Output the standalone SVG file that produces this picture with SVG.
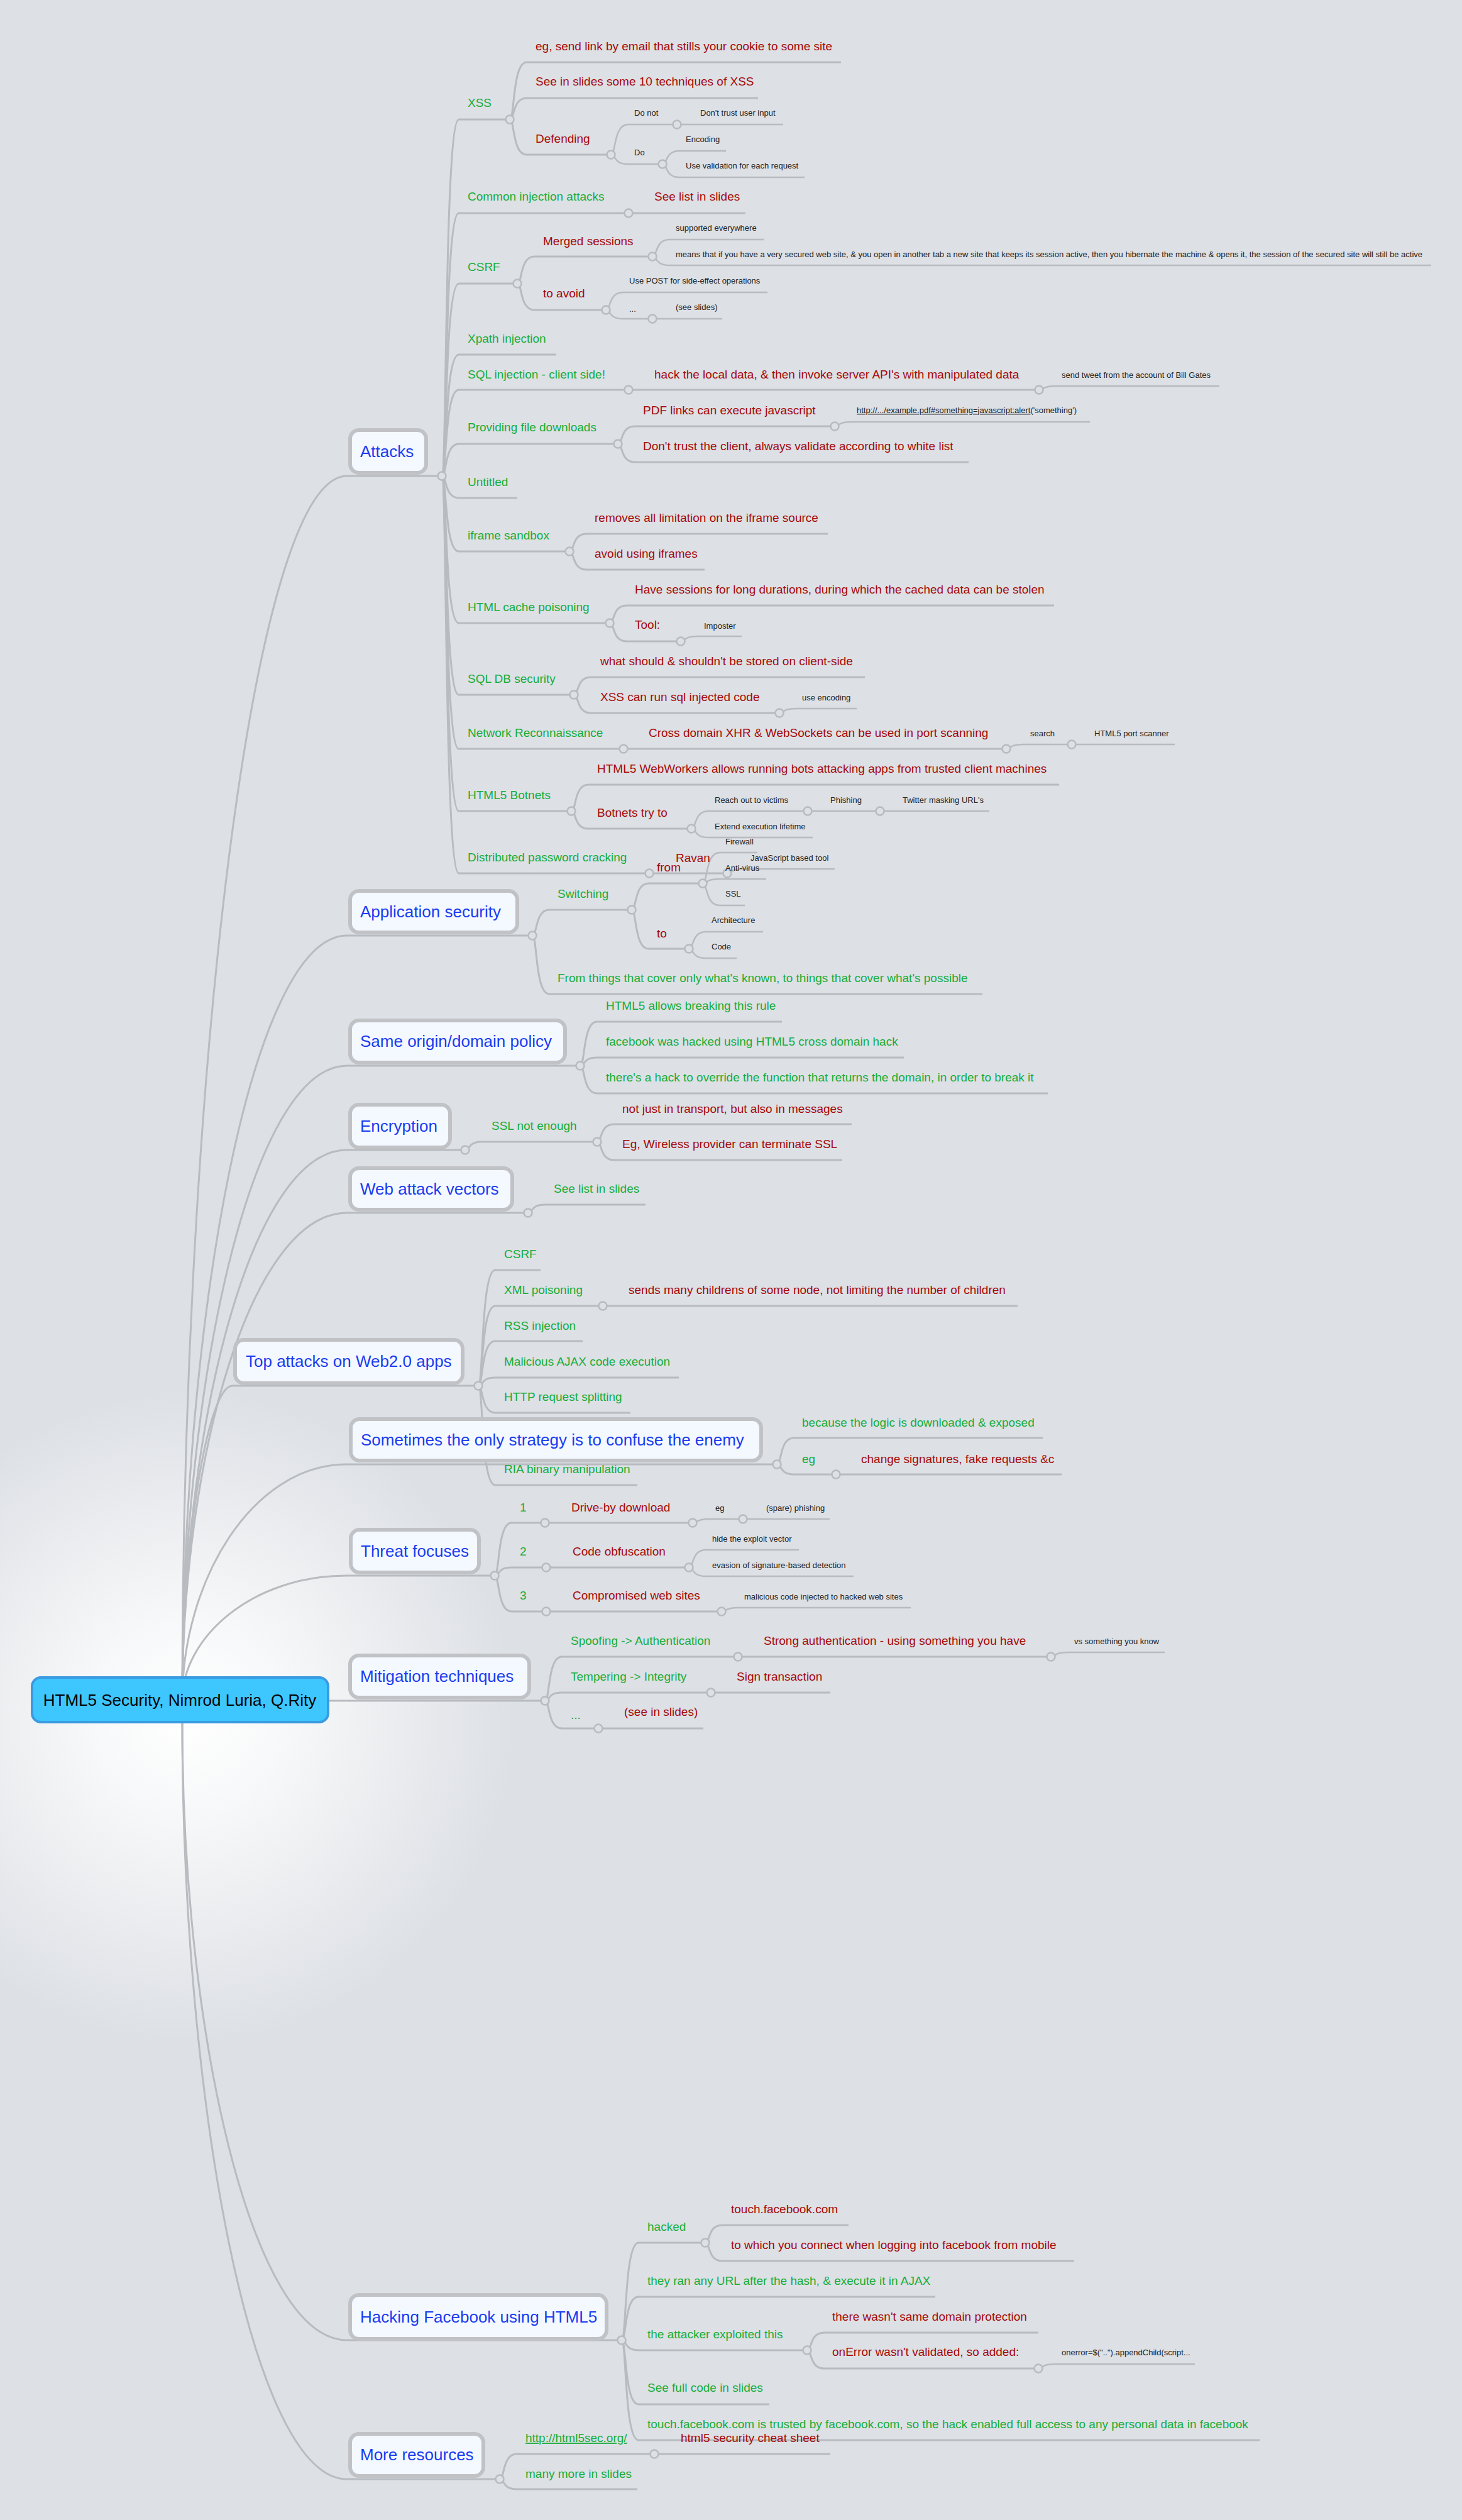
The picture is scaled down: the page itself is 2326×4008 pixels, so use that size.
<svg xmlns="http://www.w3.org/2000/svg" width="2326" height="4008" viewBox="0 0 2326 4008">
<defs>
<radialGradient id="glow" cx="300" cy="2730" r="520" gradientUnits="userSpaceOnUse">
<stop offset="0" stop-color="#ffffff"/><stop offset="0.3" stop-color="#f7f8f9"/><stop offset="1" stop-color="#dde0e5"/>
</radialGradient>
<style>
text{font-family:"Liberation Sans",Arial,sans-serif}
.g{fill:#17ad3a;font-size:19px}
.r{fill:#a50a0a;font-size:19px}
.s{fill:#222;font-size:13px}
.b{fill:#1a3cf0;font-size:26px}
.l{stroke:#b8bbbf;stroke-width:3;fill:none}
.t{stroke:#b8bbbf;stroke-width:2.5;fill:none}
.c{fill:#dde0e5;stroke:#b8bbbf;stroke-width:2.5}
.box{fill:#f4f8ff;stroke:#c0c2c6;stroke-width:6}
.u{text-decoration:underline}
</style>
</defs>
<rect width="2326" height="4008" fill="#dde0e5"/>
<rect width="2326" height="4008" fill="url(#glow)"/>

<g id="connectors">
<path class="l" d="M290 2704 C290 1730 400 757 552 757 H703"/>
<path class="l" d="M290 2704 C290 2096 400 1488 552 1488 H847"/>
<path class="l" d="M290 2704 C290 2200 400 1695 552 1695 H923"/>
<path class="l" d="M290 2704 C290 2266 400 1829 552 1829 H740"/>
<path class="l" d="M290 2704 C290 2316 400 1929 552 1929 H840"/>
<path class="l" d="M290 2704 C290 2454 330 2204 370 2204 H761"/>
<path class="l" d="M290 2704 C290 2516 400 2329 552 2329 H1236"/>
<path class="l" d="M290 2704 C290 2605 400 2506 552 2506 H787"/>
<path class="l" d="M522 2705 H867"/>
<path class="l" d="M290 2739 C290 3230 400 3722 552 3722 H989"/>
<path class="l" d="M290 2739 C290 3340 400 3943 552 3943 H795"/>

<path class="l" d="M703 757 C711 757 707 190 730 190 H811"/>
<path class="l" d="M703 757 C711 757 707 339 730 339 H1186"/>
<path class="l" d="M703 757 C711 757 707 451 730 451 H823"/>
<path class="l" d="M703 757 C711 757 707 564 730 564 H885"/>
<path class="l" d="M703 757 C711 757 707 620 730 620 H1653"/>
<path class="l" d="M703 757 C711 757 707 706 730 706 H983"/>
<path class="l" d="M703 757 C711 757 707 792 730 792 H823"/>
<path class="l" d="M703 757 C711 757 707 877 730 877 H906"/>
<path class="l" d="M703 757 C711 757 707 991 730 991 H970"/>
<path class="l" d="M703 757 C711 757 707 1105 730 1105 H913"/>
<path class="l" d="M703 757 C711 757 707 1191 730 1191 H1601"/>
<path class="l" d="M703 757 C711 757 707 1290 730 1290 H909"/>
<path class="l" d="M703 757 C711 757 707 1389 730 1389 H1157"/>

<path class="l" d="M811 190 C819 190 815 99 838 99 H1338"/>
<path class="l" d="M811 190 C819 190 815 156 838 156 H1206"/>
<path class="l" d="M811 190 C819 190 815 246 838 246 H972"/>
<path class="t" d="M972 246 C980 246 976 198 999 198 H1246"/>
<path class="t" d="M972 246 C980 246 976 261 999 261 H1054"/>
<path class="t" d="M1054 261 C1062 261 1058 240 1081 240 H1155"/>
<path class="t" d="M1054 261 C1062 261 1058 282 1081 282 H1280"/>
<path class="l" d="M823 451 C831 451 827 408 850 408 H1038"/>
<path class="l" d="M823 451 C831 451 827 493 850 493 H964"/>
<path class="t" d="M1038 408 C1046 408 1042 381 1065 381 H1215"/>
<path class="t" d="M1038 408 C1046 408 1042 422 1065 422 H2277"/>
<path class="t" d="M964 493 C972 493 968 465 991 465 H1221"/>
<path class="t" d="M964 493 C972 493 968 507 991 507 H1149"/>
<path class="t" d="M1653 620 C1661 620 1657 614 1680 614 H1940"/>
<path class="l" d="M983 706 C991 706 987 678 1010 678 H1328"/>
<path class="l" d="M983 706 C991 706 987 735 1010 735 H1541"/>
<path class="t" d="M1328 678 C1336 678 1332 671 1355 671 H1734"/>
<path class="l" d="M906 877 C914 877 910 849 933 849 H1317"/>
<path class="l" d="M906 877 C914 877 910 906 933 906 H1121"/>
<path class="l" d="M970 991 C978 991 974 963 997 963 H1677"/>
<path class="l" d="M970 991 C978 991 974 1020 997 1020 H1083"/>
<path class="t" d="M1083 1020 C1091 1020 1087 1012 1110 1012 H1180"/>
<path class="l" d="M913 1105 C921 1105 917 1077 940 1077 H1376"/>
<path class="l" d="M913 1105 C921 1105 917 1134 940 1134 H1240"/>
<path class="t" d="M1240 1134 C1248 1134 1244 1127 1267 1127 H1363"/>
<path class="t" d="M1601 1191 C1609 1191 1605 1184 1628 1184 H1869"/>
<path class="l" d="M909 1290 C917 1290 913 1248 936 1248 H1685"/>
<path class="l" d="M909 1290 C917 1290 913 1318 936 1318 H1100"/>
<path class="t" d="M1100 1318 C1108 1318 1104 1290 1127 1290 H1574"/>
<path class="t" d="M1100 1318 C1108 1318 1104 1332 1127 1332 H1293"/>
<path class="t" d="M1157 1389 C1165 1389 1161 1382 1184 1382 H1328"/>

<path class="l" d="M847 1488 C855 1488 851 1447 874 1447 H1005"/>
<path class="l" d="M847 1488 C855 1488 851 1581 874 1581 H1563"/>
<path class="l" d="M1005 1447 C1013 1447 1009 1405 1032 1405 H1118"/>
<path class="l" d="M1005 1447 C1013 1447 1009 1509 1032 1509 H1096"/>
<path class="t" d="M1118 1405 C1126 1405 1122 1356 1145 1356 H1205"/>
<path class="t" d="M1118 1405 C1126 1405 1122 1398 1145 1398 H1219"/>
<path class="t" d="M1118 1405 C1126 1405 1122 1440 1145 1440 H1185"/>
<path class="t" d="M1096 1509 C1104 1509 1100 1482 1123 1482 H1214"/>
<path class="t" d="M1096 1509 C1104 1509 1100 1524 1123 1524 H1172"/>

<path class="l" d="M923 1695 C931 1695 927 1625 950 1625 H1244"/>
<path class="l" d="M923 1695 C931 1695 927 1682 950 1682 H1438"/>
<path class="l" d="M923 1695 C931 1695 927 1739 950 1739 H1667"/>
<path class="l" d="M740 1829 C748 1829 744 1816 767 1816 H950"/>
<path class="l" d="M950 1816 C958 1816 954 1788 977 1788 H1355"/>
<path class="l" d="M950 1816 C958 1816 954 1845 977 1845 H1340"/>
<path class="l" d="M840 1929 C848 1929 844 1916 867 1916 H1027"/>

<path class="l" d="M761 2204 C769 2204 765 2020 788 2020 H860"/>
<path class="l" d="M761 2204 C769 2204 765 2077 788 2077 H1619"/>
<path class="l" d="M761 2204 C769 2204 765 2133 788 2133 H927"/>
<path class="l" d="M761 2204 C769 2204 765 2191 788 2191 H1080"/>
<path class="l" d="M761 2204 C769 2204 765 2247 788 2247 H1003"/>
<path class="l" d="M761 2204 C769 2204 765 2362 788 2362 H1014"/>
</g>

<g id="node-top-attacks">
<rect class="box" x="374" y="2131" width="362" height="69" rx="14"/>
<text class="b" x="391" y="2174">Top attacks on Web2.0 apps</text>
<text class="g" x="802" y="2001">CSRF</text>
<text class="g" x="802" y="2058">XML poisoning</text>
<text class="r" x="1000" y="2058">sends many childrens of some node, not limiting the number of children</text>
<text class="g" x="802" y="2115">RSS injection</text>
<text class="g" x="802" y="2172">Malicious AJAX code execution</text>
<text class="g" x="802" y="2228">HTTP request splitting</text>
<text class="g" x="802" y="2343">RIA binary manipulation</text>
</g>

<g id="connectors-2">
<path class="l" d="M1236 2329 C1244 2329 1240 2287 1263 2287 H1659"/>
<path class="l" d="M1236 2329 C1244 2329 1240 2345 1263 2345 H1689"/>
<path class="l" d="M787 2506 C795 2506 791 2422 814 2422 H1102"/>
<path class="t" d="M1102 2422 C1110 2422 1106 2416 1129 2416 H1320"/>
<path class="l" d="M787 2506 C795 2506 791 2493 814 2493 H1096"/>
<path class="t" d="M1096 2493 C1104 2493 1100 2465 1123 2465 H1271"/>
<path class="t" d="M1096 2493 C1104 2493 1100 2507 1123 2507 H1358"/>
<path class="l" d="M787 2506 C795 2506 791 2563 814 2563 H1148"/>
<path class="t" d="M1148 2563 C1156 2563 1152 2557 1175 2557 H1449"/>
<path class="l" d="M867 2705 C875 2705 871 2635 894 2635 H1672"/>
<path class="t" d="M1672 2635 C1680 2635 1676 2628 1699 2628 H1853"/>
<path class="l" d="M867 2705 C875 2705 871 2692 894 2692 H1321"/>
<path class="l" d="M867 2705 C875 2705 871 2749 894 2749 H1119"/>
<path class="l" d="M989 3722 C997 3722 993 3567 1016 3567 H1122"/>
<path class="l" d="M1122 3567 C1130 3567 1126 3539 1149 3539 H1350"/>
<path class="l" d="M1122 3567 C1130 3567 1126 3596 1149 3596 H1709"/>
<path class="l" d="M989 3722 C997 3722 993 3653 1016 3653 H1488"/>
<path class="l" d="M989 3722 C997 3722 993 3738 1016 3738 H1284"/>
<path class="l" d="M1284 3738 C1292 3738 1288 3710 1311 3710 H1652"/>
<path class="l" d="M1284 3738 C1292 3738 1288 3767 1311 3767 H1652"/>
<path class="t" d="M1652 3767 C1660 3767 1656 3760 1679 3760 H1901"/>
<path class="l" d="M989 3722 C997 3722 993 3824 1016 3824 H1224"/>
<path class="l" d="M989 3722 C997 3722 993 3881 1016 3881 H2004"/>
<path class="l" d="M795 3943 C803 3943 799 3903 822 3903 H1321"/>
<path class="l" d="M795 3943 C803 3943 799 3959 822 3959 H1014"/>
</g>

<g id="junctions">
<circle class="c" cx="703" cy="757" r="6.5"/><circle class="c" cx="811" cy="190" r="6.5"/><circle class="c" cx="972" cy="246" r="6.5"/><circle class="c" cx="1077" cy="198" r="6.5"/><circle class="c" cx="1054" cy="261" r="6.5"/><circle class="c" cx="1000" cy="339" r="6.5"/><circle class="c" cx="823" cy="451" r="6.5"/><circle class="c" cx="1038" cy="408" r="6.5"/><circle class="c" cx="964" cy="493" r="6.5"/><circle class="c" cx="1038" cy="507" r="6.5"/><circle class="c" cx="1000" cy="620" r="6.5"/><circle class="c" cx="1653" cy="620" r="6.5"/><circle class="c" cx="983" cy="706" r="6.5"/><circle class="c" cx="1328" cy="678" r="6.5"/><circle class="c" cx="906" cy="877" r="6.5"/><circle class="c" cx="970" cy="991" r="6.5"/><circle class="c" cx="1083" cy="1020" r="6.5"/><circle class="c" cx="913" cy="1105" r="6.5"/><circle class="c" cx="1240" cy="1134" r="6.5"/><circle class="c" cx="992" cy="1191" r="6.5"/><circle class="c" cx="1601" cy="1191" r="6.5"/><circle class="c" cx="1705" cy="1184" r="6.5"/><circle class="c" cx="909" cy="1290" r="6.5"/><circle class="c" cx="1100" cy="1318" r="6.5"/><circle class="c" cx="1285" cy="1290" r="6.5"/><circle class="c" cx="1400" cy="1290" r="6.5"/><circle class="c" cx="1033" cy="1389" r="6.5"/><circle class="c" cx="1157" cy="1389" r="6.5"/><circle class="c" cx="847" cy="1488" r="6.5"/><circle class="c" cx="1005" cy="1447" r="6.5"/><circle class="c" cx="1118" cy="1405" r="6.5"/><circle class="c" cx="1096" cy="1509" r="6.5"/><circle class="c" cx="923" cy="1695" r="6.5"/><circle class="c" cx="740" cy="1829" r="6.5"/><circle class="c" cx="950" cy="1816" r="6.5"/><circle class="c" cx="840" cy="1929" r="6.5"/><circle class="c" cx="761" cy="2204" r="6.5"/><circle class="c" cx="959" cy="2077" r="6.5"/><circle class="c" cx="1236" cy="2329" r="6.5"/><circle class="c" cx="1330" cy="2345" r="6.5"/><circle class="c" cx="787" cy="2506" r="6.5"/><circle class="c" cx="867" cy="2422" r="6.5"/><circle class="c" cx="1102" cy="2422" r="6.5"/><circle class="c" cx="1182" cy="2416" r="6.5"/><circle class="c" cx="869" cy="2493" r="6.5"/><circle class="c" cx="1096" cy="2493" r="6.5"/><circle class="c" cx="869" cy="2563" r="6.5"/><circle class="c" cx="1148" cy="2563" r="6.5"/><circle class="c" cx="867" cy="2705" r="6.5"/><circle class="c" cx="1174" cy="2635" r="6.5"/><circle class="c" cx="1672" cy="2635" r="6.5"/><circle class="c" cx="1131" cy="2692" r="6.5"/><circle class="c" cx="952" cy="2749" r="6.5"/><circle class="c" cx="989" cy="3722" r="6.5"/><circle class="c" cx="1122" cy="3567" r="6.5"/><circle class="c" cx="1284" cy="3738" r="6.5"/><circle class="c" cx="1652" cy="3767" r="6.5"/><circle class="c" cx="795" cy="3943" r="6.5"/><circle class="c" cx="1041" cy="3903" r="6.5"/>
</g>

<g id="node-root">
<rect x="51" y="2668" width="471" height="71" rx="14" fill="#3ec6ff" stroke="#3a9be0" stroke-width="4"/>
<text x="286" y="2713" font-size="26" fill="#000" text-anchor="middle">HTML5 Security, Nimrod Luria, Q.Rity</text>
</g>

<g id="node-attacks">
<rect class="box" x="557" y="684" width="121" height="68" rx="14"/>
<text class="b" x="573" y="727">Attacks</text>
<text class="g" x="744" y="170">XSS</text>
<text class="r" x="852" y="80">eg, send link by email that stills your cookie to some site</text>
<text class="r" x="852" y="136">See in slides some 10 techniques of XSS</text>
<text class="r" x="852" y="227">Defending</text>
<text class="s" x="1009" y="184">Do not</text>
<text class="s" x="1114" y="184">Don't trust user input</text>
<text class="s" x="1009" y="247">Do</text>
<text class="s" x="1091" y="226">Encoding</text>
<text class="s" x="1091" y="268">Use validation for each request</text>
<text class="g" x="744" y="319">Common injection attacks</text>
<text class="r" x="1041" y="319">See list in slides</text>
<text class="g" x="744" y="431">CSRF</text>
<text class="r" x="864" y="390">Merged sessions</text>
<text class="s" x="1075" y="367">supported everywhere</text>
<text class="s" x="1075" y="409">means that if you have a very secured web site, &amp; you open in another tab a new site that keeps its session active, then you hibernate the machine &amp; opens it, the session of the secured site will still be active</text>
<text class="r" x="864" y="473">to avoid</text>
<text class="s" x="1001" y="451">Use POST for side-effect operations</text>
<text class="s" x="1001" y="496">...</text>
<text class="s" x="1075" y="493">(see slides)</text>
<text class="g" x="744" y="545">Xpath injection</text>
<text class="g" x="744" y="602">SQL injection - client side!</text>
<text class="r" x="1041" y="602">hack the local data, &amp; then invoke server API's with manipulated data</text>
<text class="s" x="1689" y="601">send tweet from the account of Bill Gates</text>
<text class="g" x="744" y="686">Providing file downloads</text>
<text class="r" x="1023" y="659">PDF links can execute javascript</text>
<text class="s" x="1363" y="657"><tspan class="u">http://.../example.pdf#something=javascript:alert</tspan>('something')</text>
<text class="r" x="1023" y="716">Don't trust the client, always validate according to white list</text>
<text class="g" x="744" y="773">Untitled</text>
<text class="g" x="744" y="858">iframe sandbox</text>
<text class="r" x="946" y="830">removes all limitation on the iframe source</text>
<text class="r" x="946" y="887">avoid using iframes</text>
<text class="g" x="744" y="972">HTML cache poisoning</text>
<text class="r" x="1010" y="944">Have sessions for long durations, during which the cached data can be stolen</text>
<text class="r" x="1010" y="1000">Tool:</text>
<text class="s" x="1120" y="1000">Imposter</text>
<text class="g" x="744" y="1086">SQL DB security</text>
<text class="r" x="955" y="1058">what should &amp; shouldn't be stored on client-side</text>
<text class="r" x="955" y="1115">XSS can run sql injected code</text>
<text class="s" x="1276" y="1114">use encoding</text>
<text class="g" x="744" y="1172">Network Reconnaissance</text>
<text class="r" x="1032" y="1172">Cross domain XHR &amp; WebSockets can be used in port scanning</text>
<text class="s" x="1639" y="1171">search</text>
<text class="s" x="1741" y="1171">HTML5 port scanner</text>
<text class="g" x="744" y="1271">HTML5 Botnets</text>
<text class="r" x="950" y="1229">HTML5 WebWorkers allows running bots attacking apps from trusted client machines</text>
<text class="r" x="950" y="1299">Botnets try to</text>
<text class="s" x="1137" y="1277">Reach out to victims</text>
<text class="s" x="1321" y="1277">Phishing</text>
<text class="s" x="1436" y="1277">Twitter masking URL's</text>
<text class="s" x="1137" y="1319">Extend execution lifetime</text>
<text class="g" x="744" y="1370">Distributed password cracking</text>
<text class="r" x="1075" y="1371">Ravan</text>
<text class="s" x="1194" y="1369">JavaScript based tool</text>
</g>

<g id="node-appsec">
<rect class="box" x="557" y="1417" width="266" height="66" rx="14"/>
<text class="b" x="573" y="1459">Application security</text>
<text class="g" x="887" y="1428">Switching</text>
<text class="r" x="1045" y="1386">from</text>
<text class="s" x="1154" y="1343">Firewall</text>
<text class="s" x="1154" y="1385">Anti-virus</text>
<text class="s" x="1154" y="1426">SSL</text>
<text class="r" x="1045" y="1491">to</text>
<text class="s" x="1132" y="1468">Architecture</text>
<text class="s" x="1132" y="1510">Code</text>
<text class="g" x="887" y="1562">From things that cover only what's known, to things that cover what's possible</text>
</g>

<g id="node-sameorigin">
<rect class="box" x="557" y="1623" width="342" height="67" rx="14"/>
<text class="b" x="573" y="1665">Same origin/domain policy</text>
<text class="g" x="964" y="1606">HTML5 allows breaking this rule</text>
<text class="g" x="964" y="1663">facebook was hacked using HTML5 cross domain hack</text>
<text class="g" x="964" y="1720">there's a hack to override the function that returns the domain, in order to break it</text>
</g>

<g id="node-encryption">
<rect class="box" x="557" y="1757" width="159" height="68" rx="14"/>
<text class="b" x="573" y="1800">Encryption</text>
<text class="g" x="782" y="1797">SSL not enough</text>
<text class="r" x="990" y="1770">not just in transport, but also in messages</text>
<text class="r" x="990" y="1826">Eg, Wireless provider can terminate SSL</text>
</g>

<g id="node-webattack">
<rect class="box" x="557" y="1858" width="258" height="66" rx="14"/>
<text class="b" x="573" y="1900">Web attack vectors</text>
<text class="g" x="881" y="1897">See list in slides</text>
</g>

<g id="node-sometimes">
<rect class="box" x="558" y="2257" width="653" height="66" rx="14"/>
<text class="b" x="574" y="2299">Sometimes the only strategy is to confuse the enemy</text>
<text class="g" x="1276" y="2269">because the logic is downloaded &amp; exposed</text>
<text class="g" x="1276" y="2327">eg</text>
<text class="r" x="1370" y="2327">change signatures, fake requests &amp;c</text>
</g>

<g id="node-threat">
<rect class="box" x="558" y="2433" width="204" height="68" rx="14"/>
<text class="b" x="574" y="2476">Threat focuses</text>
<text class="g" x="827" y="2404">1</text>
<text class="r" x="909" y="2404">Drive-by download</text>
<text class="s" x="1138" y="2403">eg</text>
<text class="s" x="1219" y="2403">(spare) phishing</text>
<text class="g" x="827" y="2474">2</text>
<text class="r" x="911" y="2474">Code obfuscation</text>
<text class="s" x="1133" y="2452">hide the exploit vector</text>
<text class="s" x="1133" y="2494">evasion of signature-based detection</text>
<text class="g" x="827" y="2544">3</text>
<text class="r" x="911" y="2544">Compromised web sites</text>
<text class="s" x="1184" y="2544">malicious code injected to hacked web sites</text>
</g>

<g id="node-mitigation">
<rect class="box" x="557" y="2633" width="285" height="67" rx="14"/>
<text class="b" x="573" y="2675">Mitigation techniques</text>
<text class="g" x="908" y="2616">Spoofing -&gt; Authentication</text>
<text class="r" x="1215" y="2616">Strong authentication - using something you have</text>
<text class="s" x="1709" y="2615">vs something you know</text>
<text class="g" x="908" y="2673">Tempering -&gt; Integrity</text>
<text class="r" x="1172" y="2673">Sign transaction</text>
<text class="g" x="908" y="2734">...</text>
<text class="r" x="993" y="2729">(see in slides)</text>
</g>

<g id="node-hacking">
<rect class="box" x="557" y="3650" width="408" height="70" rx="14"/>
<text class="b" x="573" y="3694">Hacking Facebook using HTML5</text>
<text class="g" x="1030" y="3548">hacked</text>
<text class="r" x="1163" y="3520">touch.facebook.com</text>
<text class="r" x="1163" y="3577">to which you connect when logging into facebook from mobile</text>
<text class="g" x="1030" y="3634">they ran any URL after the hash, &amp; execute it in AJAX</text>
<text class="g" x="1030" y="3719">the attacker exploited this</text>
<text class="r" x="1324" y="3691">there wasn't same domain protection</text>
<text class="r" x="1324" y="3747">onError wasn't validated, so added:</text>
<text class="s" x="1689" y="3746">onerror=$("..").appendChild(script...</text>
<text class="g" x="1030" y="3804">See full code in slides</text>
<text class="g" x="1030" y="3862">touch.facebook.com is trusted by facebook.com, so the hack enabled full access to any personal data in facebook</text>
</g>

<g id="node-more">
<rect class="box" x="557" y="3871" width="212" height="67" rx="14"/>
<text class="b" x="573" y="3913">More resources</text>
<text class="g u" x="836" y="3884">http://html5sec.org/</text>
<text class="r" x="1083" y="3884">html5 security cheat sheet</text>
<text class="g" x="836" y="3941">many more in slides</text>
</g>
</svg>
